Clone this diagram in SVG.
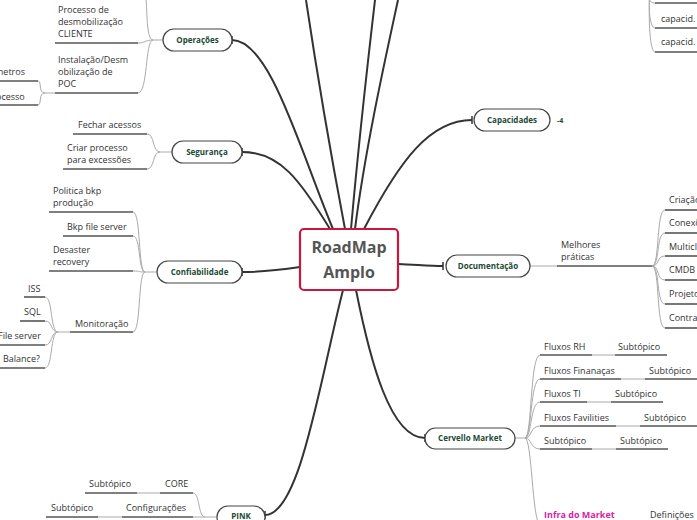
<svg xmlns="http://www.w3.org/2000/svg" width="697" height="520" viewBox="0 0 697 520">
<style>
text{font-family:"Open Sans","Noto Sans",sans-serif;font-size:9px;fill:#333}
.n rect{fill:#fff;stroke:#444;stroke-width:1.2}
.n text{font-weight:bold;font-size:8px;fill:#1d4a36;text-anchor:middle}
.u{stroke:#555;stroke-width:1.6;fill:none}
.g{stroke:#aaa;stroke-width:1;fill:none}
.c{stroke:#333;stroke-width:2;fill:none}
.t{stroke:#333;stroke-width:1.5}
</style>
<rect width="697" height="520" fill="#fff"/>
<g id="connectors">
<path class="c" d="M345 229 C330 150 315 60 306 0"/>
<path class="c" d="M351 229 C358 150 368 60 375 0"/>
<path class="c" d="M355 229 C365 150 385 60 398 0"/>
<path class="c" d="M333 229 C300 150 270 40 232 40"/>
<path class="c" d="M330 229 C300 180 280 152 242 152"/>
<path class="c" d="M300 267 C280 270 260 272 242 272"/>
<path class="c" d="M364 229 C400 160 430 120 472 120"/>
<path class="c" d="M398 264 C420 265 430 266 443 266"/>
<path class="c" d="M356 290 C370 360 390 438 425 438"/>
<path class="c" d="M343 290 C320 380 300 515 265 515"/>
<g class="t"><line x1="232" y1="36" x2="232" y2="44"/><line x1="242" y1="148" x2="242" y2="156"/><line x1="242" y1="268" x2="242" y2="276"/><line x1="472" y1="116" x2="472" y2="124"/><line x1="443" y1="262" x2="443" y2="270"/><line x1="425" y1="434" x2="425" y2="442"/><line x1="265" y1="511" x2="265" y2="519"/></g>
<!-- Operações -->
<path class="g" d="M163 40 H153 C145 40 148 0 145 -5 M153 40 C145 40 145 43 138 43 M153 40 C145 40 148 93 138 93"/>
<line class="u" x1="55" y1="43" x2="138" y2="43"/><line class="u" x1="55" y1="93" x2="138" y2="93"/>
<path class="g" d="M55 93 H45 C38 93 42 81 38 81 M45 93 C38 93 42 105 38 105"/>
<line class="u" x1="0" y1="81" x2="38" y2="81"/><line class="u" x1="0" y1="105" x2="38" y2="105"/>
<!-- Segurança -->
<path class="g" d="M172 152 H160 C152 152 155 134 147 134 M160 152 C152 152 155 169 147 169"/>
<line class="u" x1="73" y1="134" x2="147" y2="134"/><line class="u" x1="63" y1="169" x2="147" y2="169"/>
<!-- Confiabilidade -->
<path class="g" d="M157 272 H145 C138 272 141 212 133 212 M145 272 C138 272 141 236 133 236 M145 272 C138 272 141 271 133 271 M145 272 C138 272 141 332 133 332"/>
<line class="u" x1="49" y1="212" x2="133" y2="212"/><line class="u" x1="63" y1="236" x2="133" y2="236"/><line class="u" x1="49" y1="271" x2="133" y2="271"/><line class="u" x1="70" y1="332" x2="133" y2="332"/>
<path class="g" d="M70 332 H58 C50 332 53 297 45 297 M58 332 C50 332 53 321 45 321 M58 332 C50 332 53 345 45 345 M58 332 C50 332 53 368 45 368"/>
<line class="u" x1="24" y1="297" x2="45" y2="297"/><line class="u" x1="20" y1="321" x2="45" y2="321"/><line class="u" x1="0" y1="345" x2="45" y2="345"/><line class="u" x1="0" y1="368" x2="45" y2="368"/>
<!-- capacid top right -->
<path class="g" d="M650 -10 C648 0 650 3 655 3 M650 -10 C648 10 650 28 655 28 M650 -10 C648 20 650 52 655 52"/>
<line class="u" x1="655" y1="3" x2="697" y2="3"/><line class="u" x1="655" y1="28" x2="697" y2="28"/><line class="u" x1="655" y1="52" x2="697" y2="52"/>
<!-- Documentação -->
<line class="g" x1="530" y1="266" x2="557" y2="266"/><line class="u" x1="557" y1="266" x2="652" y2="266"/>
<path class="g" d="M652 266 C660 266 656 210 665 210 M652 266 C660 266 656 233 665 233 M652 266 C660 266 656 256 665 256 M652 266 C660 266 656 280 665 280 M652 266 C660 266 656 304 665 304 M652 266 C660 266 656 328 665 328"/>
<g class="u"><line x1="665" y1="210" x2="697" y2="210"/><line x1="665" y1="233" x2="697" y2="233"/><line x1="665" y1="256" x2="697" y2="256"/><line x1="665" y1="280" x2="697" y2="280"/><line x1="665" y1="304" x2="697" y2="304"/><line x1="665" y1="328" x2="697" y2="328"/></g>
<!-- Cervello -->
<path class="g" d="M515 438 H525 C532 438 530 355 540 355 M525 438 C532 438 530 379 540 379 M525 438 C532 438 530 402 540 402 M525 438 C532 438 530 426 540 426 M525 438 C532 438 530 449 540 449 M525 438 C532 438 532 520 540 525"/>
<line class="u" x1="540" y1="355" x2="592" y2="355"/><line class="g" x1="592" y1="355" x2="615" y2="355"/><line class="u" x1="615" y1="355" x2="667" y2="355"/>
<line class="u" x1="540" y1="379" x2="621" y2="379"/><line class="g" x1="621" y1="379" x2="645" y2="379"/><line class="u" x1="645" y1="379" x2="697" y2="379"/>
<line class="u" x1="540" y1="402" x2="587" y2="402"/><line class="g" x1="587" y1="402" x2="611" y2="402"/><line class="u" x1="611" y1="402" x2="663" y2="402"/>
<line class="u" x1="540" y1="426" x2="616" y2="426"/><line class="g" x1="616" y1="426" x2="640" y2="426"/><line class="u" x1="640" y1="426" x2="697" y2="426"/>
<line class="u" x1="540" y1="449" x2="592" y2="449"/><line class="g" x1="592" y1="449" x2="616" y2="449"/><line class="u" x1="616" y1="449" x2="668" y2="449"/>
<!-- PINK -->
<path class="g" d="M217 517 H205 C198 517 200 493 193 493 M205 517 H193"/>
<line class="u" x1="160" y1="493" x2="193" y2="493"/><line class="g" x1="137" y1="493" x2="160" y2="493"/><line class="u" x1="85" y1="493" x2="137" y2="493"/>
<line class="u" x1="122" y1="517" x2="193" y2="517"/><line class="g" x1="98" y1="517" x2="122" y2="517"/><line class="u" x1="46" y1="517" x2="98" y2="517"/>
</g>
<g id="center"><rect x="300" y="229" width="98" height="61" rx="4" fill="#fff" stroke="#c8193c" stroke-width="2.2"/>
<text x="349" y="253" text-anchor="middle" style="font-size:16px;font-weight:bold;fill:#555">RoadMap</text>
<text x="349" y="278" text-anchor="middle" style="font-size:16px;font-weight:bold;fill:#555">Amplo</text></g>
<g id="operacoes" class="n"><rect x="163" y="29" width="69" height="22" rx="11"/><text x="197.5" y="43">Operações</text></g>
<g id="seguranca" class="n"><rect x="172" y="141" width="70" height="22" rx="11"/><text x="207" y="155">Segurança</text></g>
<g id="confiabilidade" class="n"><rect x="157" y="261" width="85" height="22" rx="11"/><text x="199.5" y="275">Confiabilidade</text></g>
<g id="capacidades" class="n"><rect x="474" y="109" width="76" height="22" rx="11"/><text x="512" y="123">Capacidades</text></g>
<g id="documentacao" class="n"><rect x="446" y="255" width="84" height="22" rx="11"/><text x="488" y="269">Documentação</text></g>
<g id="cervello" class="n"><rect x="425" y="428" width="90" height="21" rx="10.5"/><text x="470" y="441">Cervello Market</text></g>
<g id="pink" class="n"><rect x="217" y="506" width="48" height="22" rx="11"/><text x="241" y="519">PINK</text></g>
<g id="labels">
<text x="58" y="13">Processo de</text><text x="58" y="25">desmobilização</text><text x="58" y="37">CLIENTE</text>
<text x="58" y="63">Instalação/Desm</text><text x="58" y="75">obilização de</text><text x="58" y="87">POC</text>
<text x="-5" y="75">metros</text><text x="-4" y="100">ocesso</text>
<text x="78" y="128">Fechar acessos</text><text x="67" y="151">Criar processo</text><text x="67" y="163">para excessões</text>
<text x="53" y="194">Politica bkp</text><text x="53" y="206">produção</text><text x="67" y="230">Bkp file server</text>
<text x="53" y="253">Desaster</text><text x="53" y="265">recovery</text><text x="75" y="327">Monitoração</text>
<text x="28" y="292">ISS</text><text x="24" y="315">SQL</text><text x="-2" y="339">File server</text><text x="3" y="362">Balance?</text>
<text x="661" y="22">capacid.</text><text x="661" y="45">capacid.</text>
<text x="557" y="123" style="font-size:7px;font-weight:bold;fill:#1d4a36">-4</text>
<text x="561" y="248">Melhores</text><text x="561" y="260">práticas</text>
<text x="669" y="203">Criação</text><text x="669" y="226">Conexões</text><text x="669" y="250">Multiclientes</text><text x="669" y="273">CMDB</text><text x="669" y="297">Projetos</text><text x="669" y="321">Contratos</text>
<text x="544" y="350">Fluxos RH</text><text x="618" y="350">Subtópico</text>
<text x="544" y="374">Fluxos Finanaças</text><text x="649" y="374">Subtópico</text>
<text x="544" y="397">Fluxos TI</text><text x="615" y="397">Subtópico</text>
<text x="544" y="421">Fluxos Favilities</text><text x="644" y="421">Subtópico</text>
<text x="544" y="444">Subtópico</text><text x="620" y="444">Subtópico</text>
<text x="544" y="518" style="font-weight:bold;fill:#d61ea5">Infra do Market</text><text x="650" y="518">Definições</text>
<text x="89" y="487">Subtópico</text><text x="165" y="487">CORE</text>
<text x="51" y="511">Subtópico</text><text x="126" y="511">Configurações</text>
</g>
</svg>
